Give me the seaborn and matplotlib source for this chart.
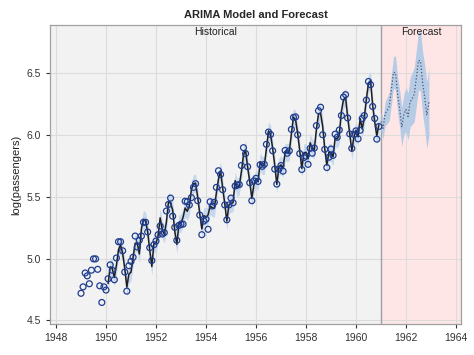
import numpy as np
import pandas as pd
import matplotlib
matplotlib.use("Agg")
import matplotlib.pyplot as plt
import seaborn as sns

# monthly airline passengers, Jan 1949 - Dec 1960 (thousands)
passengers = [112, 118, 132, 129, 121, 135, 148, 148, 136, 119, 104, 118,
              115, 126, 141, 135, 125, 149, 170, 170, 158, 133, 114, 140,
              145, 150, 178, 163, 172, 178, 199, 199, 184, 162, 146, 166,
              171, 180, 193, 181, 183, 218, 230, 242, 209, 191, 172, 194,
              196, 196, 236, 235, 229, 243, 264, 272, 237, 211, 180, 201,
              204, 188, 235, 227, 234, 264, 302, 293, 259, 229, 203, 229,
              242, 233, 267, 269, 270, 315, 364, 347, 312, 274, 237, 278,
              284, 277, 317, 313, 318, 374, 413, 405, 355, 306, 271, 306,
              315, 301, 356, 348, 355, 422, 465, 467, 404, 347, 305, 336,
              340, 318, 362, 348, 363, 435, 491, 505, 404, 359, 310, 337,
              360, 342, 406, 396, 420, 472, 548, 559, 463, 407, 362, 405,
              417, 391, 419, 461, 472, 535, 622, 606, 508, 461, 390, 432]

# one-step-ahead predictions, Feb 1950 - Dec 1960
fitted = [4.797, 4.933, 4.919, 4.847, 4.945, 5.072, 5.110, 5.041, 4.920, 4.768, 4.875,
          4.889, 5.011, 5.123, 5.126, 5.037, 5.242, 5.316, 5.302, 5.217, 5.065, 4.935, 5.126,
          5.119, 5.186, 5.329, 5.232, 5.197, 5.297, 5.460, 5.447, 5.393, 5.222, 5.114, 5.281,
          5.287, 5.334, 5.409, 5.382, 5.425, 5.559, 5.605, 5.610, 5.499, 5.362, 5.239, 5.347,
          5.333, 5.353, 5.426, 5.411, 5.406, 5.534, 5.643, 5.709, 5.570, 5.445, 5.303, 5.433,
          5.447, 5.452, 5.630, 5.569, 5.590, 5.703, 5.839, 5.875, 5.737, 5.621, 5.487, 5.598,
          5.648, 5.621, 5.782, 5.752, 5.754, 5.887, 6.033, 6.007, 5.890, 5.755, 5.600, 5.740,
          5.758, 5.728, 5.864, 5.856, 5.864, 6.012, 6.144, 6.123, 6.014, 5.872, 5.729, 5.855,
          5.860, 5.807, 5.937, 5.892, 5.882, 6.046, 6.169, 6.176, 6.073, 5.887, 5.756, 5.860,
          5.857, 5.825, 5.976, 5.967, 6.002, 6.192, 6.284, 6.304, 6.145, 6.009, 5.872, 5.985,
          6.037, 5.985, 6.132, 6.049, 6.140, 6.295, 6.416, 6.439, 6.240, 6.104, 5.993, 6.083]
fitted_se = 0.037

# forecasts, Jan 1961 - Dec 1962
forecast = [6.110, 6.054, 6.172, 6.199, 6.232, 6.369, 6.507, 6.503, 6.325, 6.209, 6.063, 6.168,
            6.206, 6.150, 6.268, 6.295, 6.329, 6.465, 6.603, 6.599, 6.421, 6.305, 6.160, 6.264]
forecast_se = [0.037, 0.043, 0.049, 0.054, 0.058, 0.062, 0.066, 0.070, 0.073, 0.077, 0.080, 0.083,
               0.091, 0.097, 0.102, 0.107, 0.112, 0.116, 0.121, 0.125, 0.129, 0.133, 0.137, 0.141]

start_year = 1949
forecast_start = 1961.0

months = np.arange(len(passengers))
obs = pd.DataFrame({"date": start_year + months / 12, "value": np.log(passengers)})
fit = pd.DataFrame({"date": obs["date"].iloc[13:].values, "value": fitted})
fit["lo"] = fit["value"] - 1.96 * fitted_se
fit["hi"] = fit["value"] + 1.96 * fitted_se
fc = pd.DataFrame({"date": forecast_start + np.arange(len(forecast)) / 12, "value": forecast,
                   "se": forecast_se})
fc["lo"] = fc["value"] - 1.96 * fc["se"]
fc["hi"] = fc["value"] + 1.96 * fc["se"]

sns.set_style("ticks")
plt.rcParams["font.family"] = ["Liberation Sans", "DejaVu Sans"]

fig = plt.figure(figsize=(4.74, 3.55), dpi=100)
ax = fig.add_axes([0.1055, 0.0873, 0.867, 0.8423])

xmin, xmax = 1947.76, 1964.2
ax.set_xlim(xmin, xmax)
ax.set_ylim(4.47, 6.89)

# region backgrounds
ax.axvspan(xmin, forecast_start, color="#F2F2F2", zorder=0, lw=0)
ax.axvspan(forecast_start, xmax, color="#FFE6E6", zorder=0, lw=0)
ax.set_xticks(np.arange(1948, 1965, 2))
ax.set_yticks([4.5, 5.0, 5.5, 6.0, 6.5])
ax.set_yticklabels(["4.5", "5.0", "5.5", "6.0", "6.5"])
ax.grid(True, color="#DCDCDC", lw=0.8, zorder=1)
ax.set_axisbelow(True)
ax.axvline(forecast_start, color="#A0A0A0", lw=1.0, zorder=2)

# confidence bands
ax.fill_between(fit["date"], fit["lo"], fit["hi"], color="#C6D7EE", lw=0, zorder=3)
ax.fill_between(fc["date"], fc["lo"], fc["hi"], color="#B6CBE6", lw=0, zorder=3)

sns.lineplot(data=fit, x="date", y="value", ax=ax, color="#1E1E1E", lw=1.1, zorder=4)
sns.lineplot(data=fc, x="date", y="value", ax=ax, color="#4A5870", lw=0.9,
             linestyle=(0, (1, 1.6)), zorder=4)
sns.scatterplot(data=obs, x="date", y="value", ax=ax, marker="o", s=18,
                facecolor="none", edgecolor="#1F3D8F", linewidth=0.9, zorder=5)

ax.text((xmin + forecast_start) / 2, 6.875, "Historical", ha="center", va="top",
        fontsize=7.5, color="#222222")
ax.text((forecast_start + xmax) / 2, 6.875, "Forecast", ha="center", va="top",
        fontsize=7.5, color="#222222")

ax.set_title("ARIMA Model and Forecast", fontsize=8, fontweight="bold", pad=5)
ax.set_xlabel("")
ax.set_ylabel("log(passengers)", fontsize=8, color="#222222")
ax.tick_params(labelsize=7.5, colors="#333333", length=3, width=0.8)
for s in ax.spines.values():
    s.set_color("#A0A0A0")
    s.set_linewidth(0.9)

fig.savefig("out.png", dpi=100)
